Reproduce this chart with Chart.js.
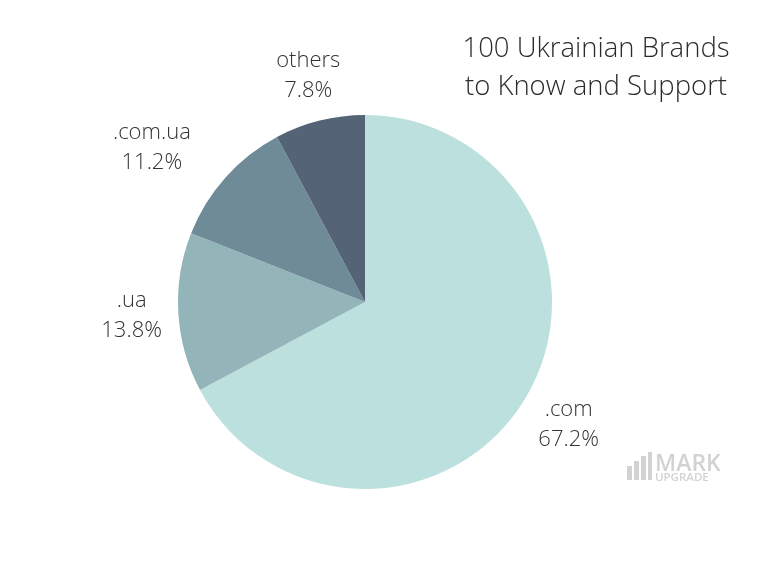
<!DOCTYPE html>
<html>
<head>
<meta charset="utf-8">
<script src="https://cdn.jsdelivr.net/npm/chart.js@4"></script>
<style>
  html, body { margin: 0; padding: 0; background: #fff; }
  #wrap { width: 768px; height: 569px; }
</style>
</head>
<body>
<div id="wrap"><canvas id="pieChart"></canvas></div>
<script>
const labels = [".com", ".ua", ".com.ua", "others"];
const shares = [67.2, 13.8, 11.2, 7.8];
const colors = ["#bce0dd", "#93b5ba", "#6f8b97", "#546375"];
const titleLines = ["100 Ukrainian Brands", "to Know and Support"];

// label placement: distance (x radius) and angle shift (degrees) from slice middle
const labelDist = [1.27, 1.25, 1.41, 1.25];
const labelShift = [0, 0, -5.7, 0];

const outsideLabels = {
  id: "outsideLabels",
  afterDraw(chart) {
    const ctx = chart.ctx;
    const meta = chart.getDatasetMeta(0);
    ctx.save();
    ctx.fillStyle = "#333";
    ctx.textAlign = "center";
    ctx.textBaseline = "middle";
    ctx.font = "300 22px 'Open Sans'";
    meta.data.forEach((arc, i) => {
      const p = arc.getProps(["x", "y", "startAngle", "endAngle", "outerRadius"], true);
      const mid = (p.startAngle + p.endAngle) / 2 + labelShift[i] * Math.PI / 180;
      const r = p.outerRadius * labelDist[i];
      const x = p.x + Math.cos(mid) * r;
      const y = p.y + Math.sin(mid) * r;
      ctx.fillText(labels[i], x, y - 14);
      ctx.fillText(shares[i].toFixed(1) + "%", x, y + 16);
    });

    // title
    ctx.fillStyle = "#2b2b2b";
    ctx.font = "300 27.5px 'Open Sans'";
    ctx.fillText(titleLines[0], 596, 49);
    ctx.fillText(titleLines[1], 596, 87);

    // watermark
    ctx.fillStyle = "#d2d2d2";
    ctx.fillRect(627, 466, 5, 14);
    ctx.fillRect(634, 461, 5, 19);
    ctx.fillRect(641, 456, 5, 24);
    ctx.fillRect(648, 452, 4, 28);
    ctx.textAlign = "left";
    ctx.textBaseline = "alphabetic";
    ctx.font = "600 23px 'Open Sans'";
    ctx.fillText("MARK", 655, 471);
    ctx.font = "600 11.5px 'Open Sans'";
    ctx.fillText("UPGRADE", 655, 481);
    ctx.restore();
  }
};

new Chart(document.getElementById("pieChart"), {
  type: "pie",
  data: {
    labels: labels,
    datasets: [{
      data: shares,
      backgroundColor: colors,
      borderWidth: 0
    }]
  },
  options: {
    responsive: true,
    maintainAspectRatio: false,
    animation: false,
    layout: { padding: { left: 178, right: 216, top: 115, bottom: 80 } },
    plugins: {
      legend: { display: false },
      tooltip: { enabled: false }
    }
  },
  plugins: [outsideLabels]
});
</script>
</body>
</html>
